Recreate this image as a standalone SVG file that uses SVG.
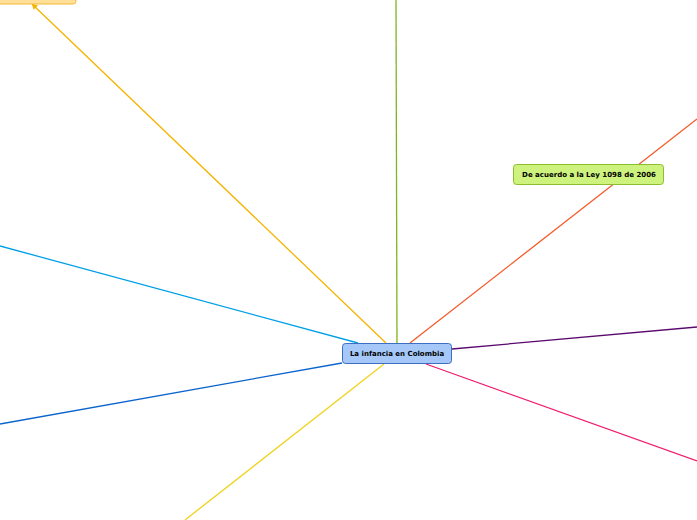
<svg xmlns="http://www.w3.org/2000/svg" width="697" height="520" viewBox="0 0 697 520">
<defs>
<style>
.lbl{font-family:"DejaVu Sans","Liberation Sans",sans-serif;font-weight:bold;font-size:7px;fill:#000;text-anchor:middle}
.c{fill:none;stroke-width:1.3}
</style>
<marker id="arr" viewBox="0 0 10 10" refX="9" refY="5" markerWidth="6" markerHeight="6" orient="auto" markerUnits="userSpaceOnUse">
<path d="M0,0 L10,5 L0,10 z" fill="#f5b400"/>
</marker>
</defs>
<rect width="697" height="520" fill="#fff"/>
<g id="connectors">
<line class="c" x1="386" y1="343" x2="32" y2="4" stroke="#f5b400" marker-end="url(#arr)"/>
<line class="c" x1="397" y1="343" x2="396" y2="0" stroke="#80b41e"/>
<line class="c" x1="410" y1="343" x2="697" y2="119" stroke="#f55a28"/>
<line class="c" x1="452" y1="349" x2="697" y2="327" stroke="#5a0a6e"/>
<line class="c" x1="426" y1="364" x2="697" y2="461" stroke="#f01e6e"/>
<line class="c" x1="384" y1="364" x2="185" y2="520" stroke="#f0d21e"/>
<line class="c" x1="342" y1="363" x2="0" y2="424" stroke="#0a64cd"/>
<line class="c" x1="358" y1="343" x2="0" y2="246" stroke="#00a0e6"/>
</g>
<g id="node-top-left">
<rect x="-20" y="-20" width="96" height="24" rx="3" fill="#ffe096" stroke="#f5b93c" stroke-width="1"/>
</g>
<g id="node-central">
<rect x="342.5" y="343.5" width="109" height="20" rx="3" fill="#a5c8f8" stroke="#3c6ec3" stroke-width="1"/>
<text class="lbl" x="397" y="356">La infancia en Colombia</text>
</g>
<g id="node-ley">
<rect x="513.5" y="164.5" width="150" height="20" rx="3" fill="#cdf27d" stroke="#8cbe2d" stroke-width="1"/>
<text class="lbl" x="589" y="177">De acuerdo a la Ley 1098 de 2006</text>
</g>
</svg>
